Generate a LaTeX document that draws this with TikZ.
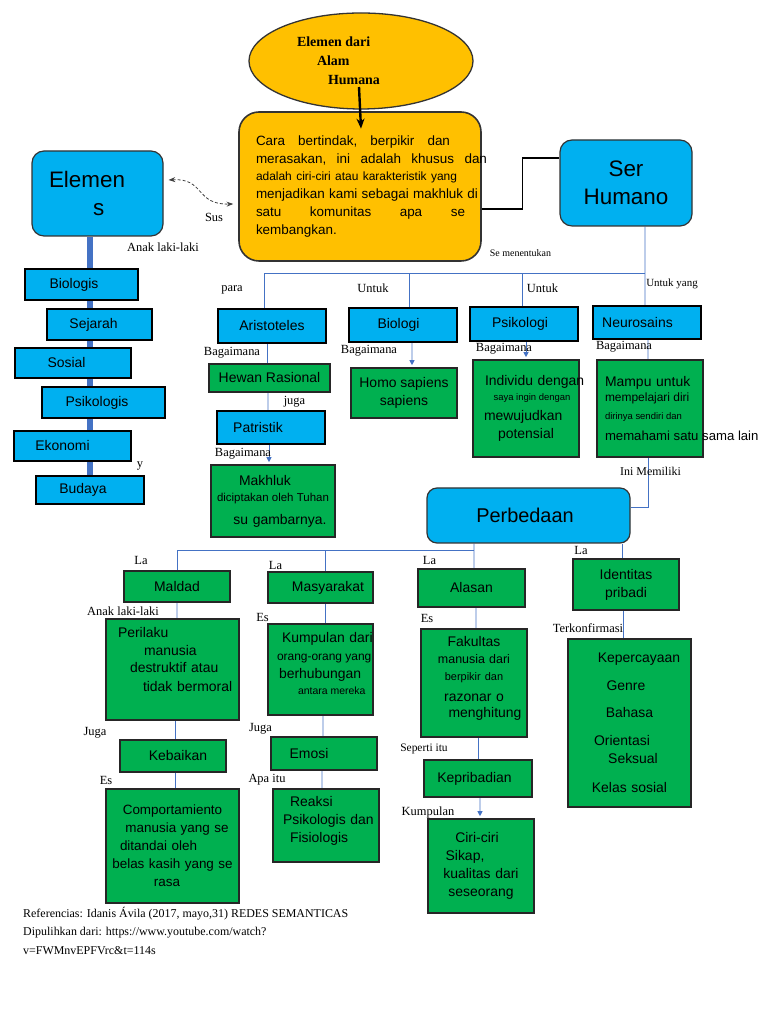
\documentclass[tikz,border=0pt]{standalone}
\usepackage{fontspec}
\setmainfont{Liberation Serif}
\setsansfont{Liberation Sans}
\usetikzlibrary{shapes.geometric,arrows.meta,backgrounds}
\definecolor{skyblue}{RGB}{0,176,240}
\definecolor{leafgreen}{RGB}{0,176,80}
\definecolor{goldfill}{RGB}{255,192,0}
\definecolor{linkblue}{RGB}{68,114,196}
\newcommand{\fsz}[1]{\fontsize{#1}{18}\selectfont\spaceskip=0pt\xspaceskip=0pt\relax}
\tikzset{
  bluebox/.style={draw=black,line width=2bp,fill=skyblue,inner sep=2bp,font=\sffamily\fontsize{14}{18}\selectfont},
  greenbox/.style={draw=black!85,line width=1.6bp,fill=leafgreen,inner sep=2bp,font=\sffamily\fontsize{14}{18}\selectfont},
  bigbox/.style={draw=black!80,line width=1.2bp,fill=skyblue,rounded corners=12bp,font=\sffamily\fontsize{22.5}{29}\selectfont},
  lbl/.style={inner sep=0pt,font=\rmfamily\fontsize{12.5}{14}\selectfont},
  conn/.style={draw=linkblue,line width=0.9bp},
  connarrow/.style={conn,-{Triangle[length=5bp,width=5bp]},shorten >=2bp},
}
\begin{document}
\begin{tikzpicture}[>=Stealth]
\useasboundingbox (0bp,0bp) rectangle (768bp,1024bp);
%%
\node (alam) at (361bp,963bp) [ellipse,draw=black!80,line width=1.3bp,fill=goldfill,minimum width=224bp,minimum height=96bp] {};
\node (alamtext) at (338.5bp,963bp) [inner sep=0pt,align=left,font=\rmfamily\bfseries\fontsize{14}{19}\selectfont] {Elemen dari\\\hspace*{20bp}Alam\\\hspace*{31bp}Humana};
\node (cara) at (360bp,837.5bp) [draw=black!80,line width=1.6bp,fill=goldfill,rounded corners=20bp,minimum width=242bp,minimum height=149bp,text width=236bp,inner sep=2bp,align=left,font=\sffamily\fontsize{13.5}{18}\selectfont]
  {\hspace*{14bp}\makebox[194bp][s]{Cara\hfill bertindak,\hfill berpikir\hfill dan}\\
   \hspace*{14bp}\makebox[0pt][l]{\makebox[231bp][s]{merasakan,\hfill ini\hfill adalah\hfill khusus\hfill dan}}\\
   \hspace*{14bp}{\fsz{12}\makebox[201bp][s]{adalah\hfill ciri-ciri\hfill atau\hfill karakteristik\hfill yang}}\\
   \hspace*{14bp}\makebox[222bp][s]{menjadikan\hfill kami\hfill sebagai\hfill makhluk\hfill di}\\
   \hspace*{14bp}\makebox[209bp][s]{satu\hfill komunitas\hfill apa\hfill se}\\
   \hspace*{14bp}kembangkan.};
\node (elemens) at (97.5bp,830.5bp) [bigbox,minimum width=131bp,minimum height=85bp,text width=97bp,align=left] {Elemen\\\hspace*{44bp}s};
\node (ser) at (626bp,841bp) [bigbox,minimum width=132bp,minimum height=86bp,align=center,font=\sffamily\fontsize{22.5}{28}\selectfont] {Ser\\Humano};
%
\node (biologis) at (81.5bp,739.5bp) [bluebox,minimum width=113bp,minimum height=31bp] {\hspace*{-15bp}Biologis};
\node (sejarah) at (99.5bp,699.5bp) [bluebox,minimum width=105bp,minimum height=31bp] {\hspace*{-12bp}Sejarah};
\node (sosial) at (73bp,661bp) [bluebox,minimum width=116bp,minimum height=30bp] {\hspace*{-13bp}Sosial};
\node (psikologis) at (103.5bp,621.5bp) [bluebox,minimum width=123bp,minimum height=31bp] {\hspace*{-13bp}Psikologis};
\node (ekonomi) at (72.5bp,578bp) [bluebox,minimum width=117bp,minimum height=30bp] {\hspace*{-20bp}Ekonomi};
\node (budaya) at (90bp,534bp) [bluebox,minimum width=108bp,minimum height=28bp] {\hspace*{-14bp}Budaya};
%
\node (arist) at (272bp,698bp) [bluebox,minimum width=108bp,minimum height=34bp] {Aristoteles};
\node (biologi) at (403bp,699bp) [bluebox,minimum width=108bp,minimum height=34bp] {\hspace*{-9bp}Biologi};
\node (psiko) at (524bp,700bp) [bluebox,minimum width=108bp,minimum height=34bp] {\hspace*{-8bp}Psikologi};
\node (neuro) at (647bp,701.5bp) [bluebox,minimum width=108bp,minimum height=33bp] {\hspace*{-19bp}Neurosains};
\node (hewan) at (269.5bp,646bp) [greenbox,minimum width=121bp,minimum height=28bp] {Hewan Rasional};
\node (patristik) at (271bp,596.5bp) [bluebox,minimum width=108bp,minimum height=33bp] {\hspace*{-26bp}Patristik};
\node (makhluk) at (273bp,523bp) [greenbox,minimum width=124bp,minimum height=72bp,text width=116bp,align=center]
  {\hspace*{-16bp}Makhluk\\[-2bp]{\fsz{11.5}diciptakan oleh Tuhan}\\[5bp]\hspace*{14bp}su gambarnya.};
\node (homo) at (404bp,631bp) [greenbox,minimum width=106bp,minimum height=50bp,align=center] {Homo sapiens\\sapiens};
\node (individu) at (526bp,615.5bp) [greenbox,minimum width=106bp,minimum height=97bp,text width=96bp,align=left]
  {\hspace*{7bp}\makebox[0pt][l]{Individu dengan}\\[-3bp]
   \makebox[96bp]{\hspace*{12bp}\fsz{9.5}saya ingin dengan}\\[2bp]
   \hspace*{6bp}mewujudkan\\[1bp]
   \makebox[96bp]{potensial}};
\node (mampu) at (650bp,615.5bp) [greenbox,minimum width=106bp,minimum height=97bp,text width=96bp,align=left]
  {\hspace*{3bp}Mampu untuk\\[-3bp]
   \hspace*{3bp}{\fsz{12}mempelajari diri}\\
   \hspace*{3bp}{\fsz{9.5}dirinya sendiri dan}\\[3bp]
   \hspace*{3bp}\makebox[0pt][l]{\fsz{13.2}memahami satu sama lain}};
%
\node (perb) at (528.5bp,508.5bp) [bigbox,rounded corners=10bp,minimum width=203bp,minimum height=55bp,font=\sffamily\fontsize{20}{24}\selectfont] {\hspace*{-7bp}Perbedaan};
\node (maldad) at (177bp,437.5bp) [greenbox,minimum width=106bp,minimum height=31bp] {Maldad};
\node (masy) at (320.5bp,436.5bp) [greenbox,minimum width=105bp,minimum height=31bp] {\hspace*{15bp}Masyarakat};
\node (alasan) at (471.5bp,436bp) [greenbox,minimum width=107bp,minimum height=38bp] {Alasan};
\node (identitas) at (626bp,439.5bp) [greenbox,minimum width=106bp,minimum height=51bp,align=center] {Identitas\\pribadi};
\node (perilaku) at (172.5bp,354.5bp) [greenbox,minimum width=133bp,minimum height=101bp,text width=123bp,align=left]
  {\hspace*{7bp}Perilaku\\
   \hspace*{33bp}manusia\\[-1bp]
   \hspace*{19bp}destruktif atau\\[1bp]
   \hspace*{32bp}tidak bermoral\\[2bp]\mbox{}};
\node (kumpulan) at (320.5bp,354.5bp) [greenbox,minimum width=105bp,minimum height=91bp,text width=95bp,align=left]
  {\hspace*{9bp}\makebox[0pt][l]{Kumpulan dari}\\
   \hspace*{4bp}\makebox[0pt][l]{\fsz{12}orang-orang yang}\\
   \hspace*{6bp}berhubungan\\[-2bp]
   \hspace*{25bp}{\fsz{10.5}antara mereka}\\[-6bp]\mbox{}};
\node (fakultas) at (474bp,341bp) [greenbox,minimum width=106bp,minimum height=108bp,text width=96bp,align=center]
  {Fakultas\\[-1bp]
   {\fsz{12.5}manusia dari}\\[-1bp]
   {\fsz{11}berpikir dan}\\[3bp]
   razonar o\\[-2bp]
   \hspace*{22bp}menghitung\\[-6bp]\mbox{}};
\node (kebaikan) at (173bp,268bp) [greenbox,minimum width=106bp,minimum height=32bp] {\hspace*{10bp}Kebaikan};
\node (emosi) at (324bp,270.5bp) [greenbox,minimum width=106bp,minimum height=33bp] {\hspace*{-30bp}Emosi};
\node (kepribadian) at (478bp,245.5bp) [greenbox,minimum width=108bp,minimum height=37bp] {\hspace*{-7bp}Kepribadian};
\node (listbox) at (629.5bp,301bp) [greenbox,minimum width=123bp,minimum height=168bp,text width=113bp,align=center]
  {\hspace*{19bp}Kepercayaan\\[10bp]
   \hspace*{-7bp}Genre\\[9bp]
   Bahasa\\[10bp]
   \hspace*{-15bp}Orientasi\\
   \hspace*{7bp}Seksual\\[11bp]
   Kelas sosial};
\node (comport) at (172.5bp,178bp) [greenbox,minimum width=133bp,minimum height=114bp,text width=123bp,align=center,font=\sffamily\fontsize{13.5}{18}\selectfont]
  {Comportamiento\\
   \hspace*{9bp}manusia yang se\\
   \makebox[123bp][l]{\hspace*{9bp}ditandai oleh}\\
   belas kasih yang se\\
   \hspace*{-11bp}rasa};
\node (reaksi) at (326bp,198.5bp) [greenbox,minimum width=106bp,minimum height=73bp,text width=96bp,align=left]
  {\hspace*{12bp}Reaksi\\[0.5bp]
   \hspace*{5bp}Psikologis dan\\
   \hspace*{12bp}Fisiologis\\[-6bp]\mbox{}};
\node (ciri) at (481bp,158bp) [greenbox,minimum width=106bp,minimum height=94bp,text width=96bp,align=center]
  {\hspace*{-8bp}Ciri-ciri\\\hspace*{-32bp}Sikap,\\kualitas dari\\seseorang};
%
\node (sus) at (214bp,807bp) [lbl] {Sus};
\node (anak1) at (163bp,777bp) [lbl] {Anak laki-laki};
\node (semen) at (520.5bp,771bp) [lbl,font=\rmfamily\fontsize{10}{12}\selectfont] {Se menentukan};
\node (para) at (232bp,734bp) [lbl] {para};
\node (untuk1) at (373bp,736bp) [lbl] {Untuk};
\node (untuk2) at (542.5bp,736bp) [lbl] {Untuk};
\node (untukyang) at (672bp,740bp) [lbl,font=\rmfamily\fontsize{11}{13}\selectfont] {Untuk yang};
\node (bag1) at (232bp,671bp) [lbl] {Bagaimana};
\node (juga1) at (294.5bp,622bp) [lbl] {juga};
\node (bag2) at (243bp,570bp) [lbl] {Bagaimana};
\node (bag3) at (369bp,673bp) [lbl] {Bagaimana};
\node (bag4) at (504bp,675bp) [lbl] {Bagaimana};
\node (bag5) at (624bp,677bp) [lbl] {Bagaimana};
\node (inimem) at (650.5bp,553bp) [lbl,font=\rmfamily\fontsize{12}{14}\selectfont] {Ini Memiliki};
\node (ylbl) at (140bp,558bp) [lbl] {y};
\node (la1) at (141bp,464bp) [lbl] {La};
\node (la2) at (275.5bp,459bp) [lbl] {La};
\node (la3) at (429.5bp,464bp) [lbl] {La};
\node (la4) at (581bp,474bp) [lbl] {La};
\node (anak2) at (123bp,413bp) [lbl] {Anak laki-laki};
\node (es1) at (262.5bp,407bp) [lbl] {Es};
\node (es2) at (427bp,406bp) [lbl] {Es};
\node (terk) at (588bp,396bp) [lbl] {Terkonfirmasi};
\node (juga2) at (95bp,291bp) [lbl] {Juga};
\node (juga3) at (260.5bp,295bp) [lbl] {Juga};
\node (seperti) at (424bp,275bp) [lbl,font=\rmfamily\fontsize{11.5}{14}\selectfont] {Seperti itu};
\node (es3) at (106bp,244bp) [lbl] {Es};
\node (apaitu) at (267bp,244bp) [lbl] {Apa itu};
\node (kumplbl) at (428bp,211bp) [lbl] {Kumpulan};
\node (refs) at (23bp,117bp) [anchor=north west,inner sep=0pt,align=left,font=\rmfamily\fontsize{12}{18.5}\selectfont]
  {Referencias: Idanis Ávila (2017, mayo,31) REDES SEMANTICAS\\
   Dipulihkan dari: https://www.youtube.com/watch?\\
   v=FWMnvEPFVrc\&t=114s};
%
\coordinate (topbar) at (645bp,751bp);
\coordinate (perbbar) at (474bp,474bp);
\begin{scope}[on background layer]
  \draw [line width=5.5bp,draw=linkblue] ([xshift=-7.5bp]elemens.south) -- ([xshift=-7.5bp]elemens.south |- budaya.north);
  \draw [line width=1.3bp] ([yshift=-22.5bp]cara.east) -- ++(41bp,0) |- ([yshift=25bp]ser.west);
  \draw [conn] ([xshift=19bp]ser.south) -- ([xshift=-2bp]neuro.north);
  \draw [conn] ([xshift=-8bp]arist.north) |- (topbar);
  \draw [conn] ([xshift=6bp]biologi.north) -- ([xshift=6bp]biologi.north |- topbar);
  \draw [conn] ([xshift=-2bp]psiko.north) -- ([xshift=-2bp]psiko.north |- topbar);
  \draw [conn] ([xshift=-5bp]arist.south) -- ([xshift=-2.5bp]hewan.north);
  \draw [conn] ([xshift=-1.5bp]hewan.south) -- ([xshift=-3bp]patristik.north);
  \draw [connarrow] ([xshift=-2bp]patristik.south) -- ([xshift=-4bp]makhluk.north);
  \draw [connarrow] ([xshift=9bp]biologi.south) -- ([xshift=8bp]homo.north);
  \draw [connarrow] ([xshift=2bp]psiko.south) -- (individu.north);
  \draw [conn] ([xshift=1bp]neuro.south) -- ([xshift=-2bp]mampu.north);
  \draw [conn] ([xshift=-2bp]mampu.south) |- ([yshift=8.5bp]perb.east);
  \draw [conn] ([xshift=-54.5bp]perb.south) -- ([xshift=2.5bp]alasan.north);
  \draw [conn] (maldad.north) |- (perbbar);
  \draw [conn] ([xshift=4.5bp]masy.north) -- ([xshift=4.5bp]masy.north |- perbbar);
  \draw [conn] ([xshift=93.5bp]perb.south) -- ([xshift=-4bp]identitas.north);
  \draw [conn] (maldad.south) -- ([xshift=4.5bp]perilaku.north);
  \draw [conn] ([xshift=2.5bp]perilaku.south) -- ([xshift=2bp]kebaikan.north);
  \draw [conn] ([xshift=2bp]kebaikan.south) -- ([xshift=2.5bp]comport.north);
  \draw [conn] ([xshift=4.5bp]masy.south) -- ([xshift=4.5bp]kumpulan.north);
  \draw [conn] ([xshift=2.5bp]kumpulan.south) -- ([xshift=-1bp]emosi.north);
  \draw [conn] ([xshift=-2bp]emosi.south) -- ([xshift=-4bp]reaksi.north);
  \draw [conn] ([xshift=4.5bp]alasan.south) -- ([xshift=2bp]fakultas.north);
  \draw [conn] ([xshift=4bp]fakultas.south) -- (kepribadian.north);
  \draw [connarrow] ([xshift=2bp]kepribadian.south) -- ([xshift=-1bp]ciri.north);
  \draw [conn] ([xshift=-3bp]identitas.south) -- ([xshift=-6.5bp]listbox.north);
\end{scope}
\draw [<->,densely dashed,line width=0.8bp,draw=black!75] ([xshift=5bp,yshift=13.5bp]elemens.east) .. controls (205bp,846bp) and (195bp,819bp) .. ([xshift=-5bp,yshift=-17.5bp]cara.west);
\draw [line width=2.4bp,-{Stealth[length=10bp,width=8bp]}] ([xshift=-2bp,yshift=-26bp]alam.center) -- ([yshift=-19bp]alam.south);
%
\end{tikzpicture}
\end{document}
